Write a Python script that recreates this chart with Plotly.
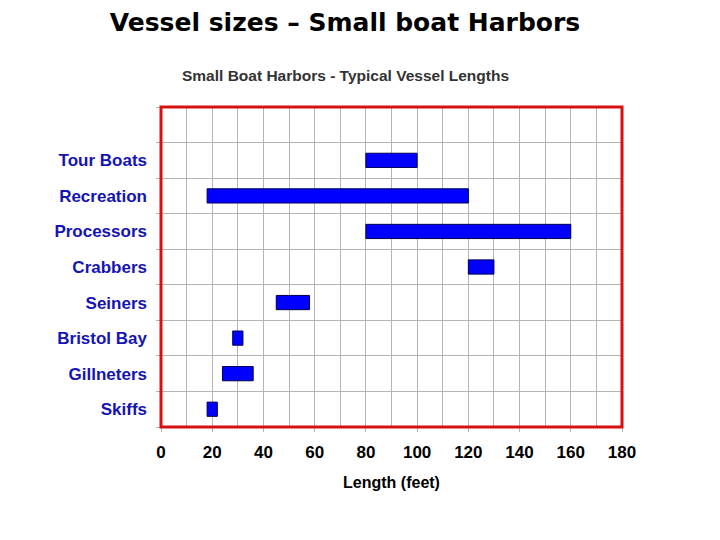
import plotly.graph_objects as go

categories = ["Skiffs", "Gillneters", "Bristol Bay", "Seiners", "Crabbers",
              "Processors", "Recreation", "Tour Boats"]
start_ft = [18, 24, 28, 45, 120, 80, 18, 80]
end_ft = [22, 36, 32, 58, 130, 160, 120, 100]
x_ticks = [0, 20, 40, 60, 80, 100, 120, 140, 160, 180]

positions = list(range(len(categories)))
lengths = [e - s for s, e in zip(start_ft, end_ft)]

fig = go.Figure()
fig.add_trace(go.Bar(
    y=positions, x=lengths, base=start_ft, orientation="h",
    width=0.4,
    marker=dict(color="#0000ff", line=dict(color="#000050", width=1)),
    hoverinfo="skip", showlegend=False,
))

fig.update_layout(
    width=720, height=540,
    margin=dict(l=153, r=106, t=99, b=121),
    paper_bgcolor="white", plot_bgcolor="white",
    title=dict(text="Vessel sizes – Small boat Harbors",
               x=337/720, xanchor="center", y=1-14/540, yanchor="middle",
               font=dict(family="DejaVu Sans", size=25, color="black", weight="bold")),
    xaxis=dict(range=[0, 180], tickvals=x_ticks, showgrid=True,
               gridcolor="#b4b4b4", gridwidth=1, zeroline=False,
               ticks="outside", ticklen=4, tickcolor="#b4b4b4",
               ticklabelstandoff=6,
               minor=dict(dtick=10, showgrid=True, gridcolor="#b4b4b4"),
               tickfont=dict(family="Liberation Sans", size=17, color="black", weight="bold"),
               title=dict(text="Length (feet)", standoff=15,
                          font=dict(family="Liberation Sans", size=16, color="black", weight="bold")),
               showline=False, fixedrange=True),
    yaxis=dict(range=[-0.5, 8.5], tickvals=positions, ticktext=categories,
               showgrid=False, zeroline=False, ticks="",
               minor=dict(tickvals=[i - 0.5 for i in range(10)], showgrid=True,
                          gridcolor="#b4b4b4", ticks="outside", ticklen=4,
                          tickcolor="#b4b4b4"),
               tickfont=dict(family="Liberation Sans", size=17, color="#1414b4", weight="bold"),
               ticklabelstandoff=13, showline=False, fixedrange=True),
    annotations=[dict(text="Small Boat Harbors - Typical Vessel Lengths",
                      xref="paper", yref="paper", x=(345-161)/461, y=1+(107-76)/320,
                      xanchor="center", yanchor="middle", showarrow=False,
                      font=dict(family="Liberation Sans", size=15.5, color="#333333", weight="bold"))],
    shapes=[dict(type="rect", xref="paper", yref="paper", x0=0, x1=1, y0=0, y1=1,
                 line=dict(color="#d81010", width=3), layer="above")],
)

fig.write_html("out.html")
